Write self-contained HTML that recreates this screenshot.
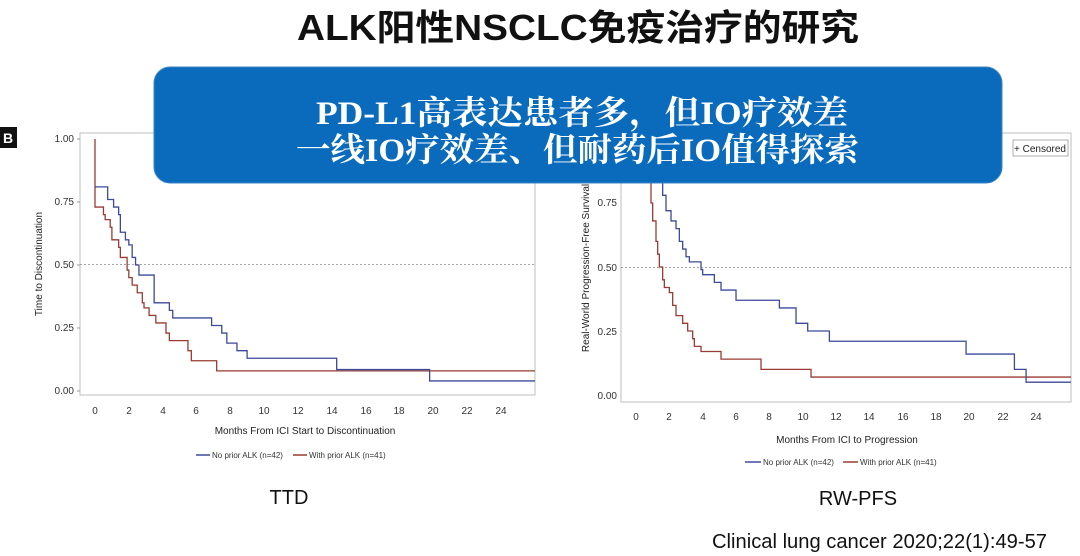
<!DOCTYPE html>
<html><head><meta charset="utf-8"><style>
html,body{margin:0;padding:0;background:#fff;}
body{width:1080px;height:556px;overflow:hidden;position:relative;font-family:"Liberation Sans","Noto Sans CJK SC",sans-serif;}
</style></head><body>
<svg width="1080" height="556" viewBox="0 0 1080 556" xmlns="http://www.w3.org/2000/svg" style="position:absolute;left:0;top:0">
<defs>
<clipPath id="cl"><rect x="80" y="133" width="455" height="262"/></clipPath>
<clipPath id="cr"><rect x="621" y="133" width="450" height="269"/></clipPath>
</defs>
<text x="297" y="40" textLength="562" lengthAdjust="spacingAndGlyphs" font-family="Liberation Sans, Noto Sans CJK SC, sans-serif" font-weight="bold" font-size="36" fill="#111">ALK阳性NSCLC免疫治疗的研究</text>

<rect x="0" y="127" width="17" height="21" fill="#111"/>
<text x="8" y="143" text-anchor="middle" font-size="14" font-weight="bold" fill="#fff">B</text>

<!-- LEFT CHART -->
<rect x="80" y="133" width="455" height="262" fill="none" stroke="#c8c8c8" stroke-width="1.2"/>
<line x1="80" y1="264.5" x2="535" y2="264.5" stroke="#888" stroke-dasharray="2,2" stroke-width="0.8"/>
<g font-size="10" fill="#333" text-anchor="end">
<text x="74" y="142">1.00</text><text x="74" y="205">0.75</text><text x="74" y="268">0.50</text><text x="74" y="331">0.25</text><text x="74" y="394">0.00</text>
</g>
<g stroke="#999" stroke-width="1"><line x1="77" y1="139" x2="80" y2="139"/><line x1="77" y1="202" x2="80" y2="202"/><line x1="77" y1="265" x2="80" y2="265"/><line x1="77" y1="328" x2="80" y2="328"/><line x1="77" y1="391" x2="80" y2="391"/></g>
<g font-size="10" fill="#333" text-anchor="middle">
<text x="95" y="414">0</text><text x="129" y="414">2</text><text x="163" y="414">4</text><text x="196" y="414">6</text><text x="230" y="414">8</text><text x="264" y="414">10</text><text x="298" y="414">12</text><text x="332" y="414">14</text><text x="366" y="414">16</text><text x="399" y="414">18</text><text x="433" y="414">20</text><text x="467" y="414">22</text><text x="501" y="414">24</text>
</g>
<text x="305" y="434" font-size="10" text-anchor="middle" fill="#222">Months From ICI Start to Discontinuation</text>
<text transform="translate(42,264) rotate(-90)" font-size="10" text-anchor="middle" fill="#222">Time to Discontinuation</text>
<line x1="196" y1="455" x2="210" y2="455" stroke="#3c4a9a" stroke-width="1.5"/>
<text x="212" y="458" font-size="8" fill="#333">No prior ALK (n=42)</text>
<line x1="293" y1="455" x2="307" y2="455" stroke="#9a3b32" stroke-width="1.5"/>
<text x="309" y="458" font-size="8" fill="#333">With prior ALK (n=41)</text>
<g clip-path="url(#cl)">
<g transform="translate(95,391) scale(16.9,-252)" fill="none" stroke-width="1.3">
<path vector-effect="non-scaling-stroke" stroke="#9a3b32" d="M0,1 V0.73 H0.5 V0.70 H0.6 V0.68 H0.9 V0.65 H1.0 V0.60 H1.4 V0.57 H1.5 V0.53 H1.9 V0.48 H2.0 V0.45 H2.2 V0.42 H2.5 V0.39 H2.8 V0.35 H2.9 V0.33 H3.2 V0.30 H3.6 V0.27 H4.2 V0.23 H4.4 V0.20 H5.5 V0.16 H5.7 V0.12 H7.2 V0.08 H26.5"/>
<path vector-effect="non-scaling-stroke" stroke="#3c4a9a" d="M0,0.81 H0.75 V0.76 H1.1 V0.73 H1.4 V0.70 H1.5 V0.63 H1.8 V0.60 H2.0 V0.58 H2.2 V0.53 H2.4 V0.50 H2.6 V0.46 H3.5 V0.35 H4.4 V0.32 H4.6 V0.29 H6.9 V0.26 H7.5 V0.23 H7.8 V0.19 H8.4 V0.16 H9.0 V0.13 H14.3 V0.085 H19.8 V0.04 H26.5"/>
</g></g>

<!-- RIGHT CHART -->
<rect x="621" y="133" width="450" height="269" fill="none" stroke="#c8c8c8" stroke-width="1.2"/>
<line x1="621" y1="267.5" x2="1071" y2="267.5" stroke="#888" stroke-dasharray="2,2" stroke-width="0.8"/>
<g font-size="10" fill="#333" text-anchor="end">
<text x="617" y="206">0.75</text><text x="617" y="271">0.50</text><text x="617" y="335">0.25</text><text x="617" y="399">0.00</text>
</g>
<g font-size="10" fill="#333" text-anchor="middle">
<text x="636" y="420">0</text><text x="669" y="420">2</text><text x="703" y="420">4</text><text x="736" y="420">6</text><text x="769" y="420">8</text><text x="803" y="420">10</text><text x="836" y="420">12</text><text x="869" y="420">14</text><text x="903" y="420">16</text><text x="936" y="420">18</text><text x="969" y="420">20</text><text x="1003" y="420">22</text><text x="1036" y="420">24</text>
</g>
<text x="847" y="443" font-size="10" text-anchor="middle" fill="#222">Months From ICI to Progression</text>
<text transform="translate(589,268) rotate(-90)" font-size="10" text-anchor="middle" fill="#222">Real-World Progression-Free Survival</text>
<line x1="745" y1="462" x2="761" y2="462" stroke="#3c4a9a" stroke-width="1.5"/>
<text x="763" y="465" font-size="8" fill="#333">No prior ALK (n=42)</text>
<line x1="843" y1="462" x2="858" y2="462" stroke="#9a3b32" stroke-width="1.5"/>
<text x="860" y="465" font-size="8" fill="#333">With prior ALK (n=41)</text>
<rect x="1013" y="140" width="55" height="16" fill="#fff" stroke="#999" stroke-width="0.8"/>
<text x="1040" y="152" font-size="10" text-anchor="middle" fill="#222">+ Censored</text>
<g clip-path="url(#cr)">
<g transform="translate(636,395) scale(16.67,-256)" fill="none" stroke-width="1.3">
<path vector-effect="non-scaling-stroke" stroke="#9a3b32" d="M0,1 H0.7 V0.85 H0.9 V0.75 H1.0 V0.68 H1.2 V0.60 H1.3 V0.55 H1.4 V0.50 H1.6 V0.45 H1.7 V0.42 H2.0 V0.40 H2.2 V0.35 H2.4 V0.31 H2.8 V0.28 H3.1 V0.25 H3.4 V0.22 H3.5 V0.19 H3.9 V0.17 H5.1 V0.14 H7.5 V0.10 H10.5 V0.07 H26.2"/>
<path vector-effect="non-scaling-stroke" stroke="#3c4a9a" d="M0,1 H1.4 V0.85 H1.6 V0.78 H1.8 V0.72 H2.1 V0.68 H2.4 V0.65 H2.6 V0.60 H2.8 V0.57 H3.0 V0.54 H3.2 V0.52 H3.9 V0.49 H4.0 V0.47 H4.7 V0.44 H5.1 V0.41 H6.0 V0.37 H8.6 V0.34 H9.6 V0.28 H10.3 V0.25 H11.6 V0.21 H19.8 V0.16 H22.7 V0.10 H23.4 V0.05 H26.2"/>
</g></g>

<!-- BANNER -->
<rect x="154" y="67" width="848" height="116" rx="16" ry="16" fill="#0a6bbd" stroke="#3d86c8" stroke-width="1"/>
<text x="316" y="124" textLength="532" lengthAdjust="spacingAndGlyphs" font-family="Liberation Serif, Noto Serif CJK SC, serif" font-weight="bold" font-size="33" fill="#fff">PD-L1高表达患者多，但IO疗效差</text>
<text x="296" y="161" textLength="563" lengthAdjust="spacingAndGlyphs" font-family="Liberation Serif, Noto Serif CJK SC, serif" font-weight="bold" font-size="33" fill="#fff">一线IO疗效差、但耐药后IO值得探索</text>

<text x="289" y="504" text-anchor="middle" font-size="20" fill="#111">TTD</text>
<text x="858" y="505" text-anchor="middle" font-size="20" fill="#111">RW-PFS</text>
<text x="712" y="548" textLength="335" lengthAdjust="spacingAndGlyphs" font-size="20" fill="#111">Clinical lung cancer 2020;22(1):49-57</text>
</svg>
</body></html>
